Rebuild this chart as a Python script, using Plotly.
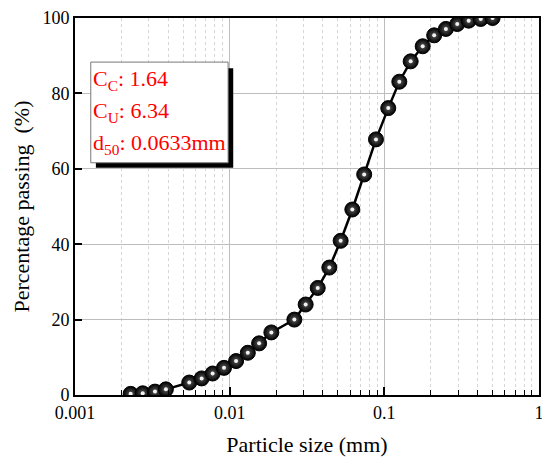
"""
Curva granulométrica: porcentaje que pasa contra tamaño de partícula.
"""

import plotly.graph_objects as go

# Tamaño de partícula (mm) y porcentaje que pasa.
TAMANOS = [
    0.00229, 0.00274, 0.00329, 0.00387, 0.00548, 0.00659, 0.00776, 0.00919,
    0.0110, 0.0131, 0.0155, 0.0186, 0.0262, 0.0310, 0.0371, 0.0441, 0.0522,
    0.0621, 0.0741, 0.0883, 0.106, 0.125, 0.148, 0.177, 0.210, 0.250, 0.296,
    0.351, 0.420, 0.501,
]
PASA = [
    0.3, 0.45, 0.9, 1.5, 3.3, 4.4, 5.7, 7.2, 9.0, 11.2, 13.7, 16.6, 20.0,
    24.0, 28.4, 33.8, 40.9, 49.2, 58.5, 67.8, 76.1, 83.1, 88.5, 92.5, 95.4,
    97.1, 98.4, 99.3, 99.75, 100.0,
]

TICKS_X = [0.001, 0.01, 0.1, 1]
TEXTO_X = ["0.001", "0.01", "0.1", "1"]

# Parámetros que van en el recuadro rojo.
ETIQUETAS = [
    "C<sub>C</sub>: 1.64",
    "C<sub>U</sub>: 6.34",
    "d<sub>50</sub>: 0.0633mm",
]

FUENTE = "Liberation Serif"


def main():
    fig = go.Figure()

    # Curva con esferas negras.
    fig.add_trace(
        go.Scatter(
            x=TAMANOS,
            y=PASA,
            mode="lines+markers",
            line_color="black",
            line_width=2.5,
            marker_size=15,
            marker_color="black",
            marker_line_color="black",
            marker_line_width=1,
            marker_gradient_type="radial",
            marker_gradient_color="#5a5a5a",
            hoverinfo="skip",
        )
    )

    # El brillo de cada esfera.
    fig.add_trace(
        go.Scatter(
            x=TAMANOS,
            y=PASA,
            mode="markers",
            marker_size=4,
            marker_color="#f2f2f2",
            marker_line_width=0,
        )
    )

    # Ticks menores en 2..9 de cada década.
    menores = [m * 10**e for e in range(-3, 0) for m in range(2, 10)]

    fig.update_xaxes(
        type="log",
        range=[-3, 0],
        tickvals=TICKS_X,
        ticktext=TEXTO_X,
        ticks="inside",
        ticklen=8,
        tickwidth=1.5,
        tickcolor="black",
        showline=True,
        linecolor="black",
        linewidth=2,
        mirror=True,
        showgrid=True,
        gridcolor="#bdbdbd",
        gridwidth=1,
        zeroline=False,
        automargin=False,
        tickfont_size=18,
        title_text="Particle size (mm)",
        title_font_size=22,
        title_standoff=15,
        minor=dict(
            tickvals=menores,
            ticks="inside",
            ticklen=5,
            tickwidth=1.2,
            tickcolor="black",
            showgrid=True,
            gridcolor="#d6d6d6",
            griddash="dot",
            gridwidth=1,
        ),
    )

    fig.update_yaxes(
        range=[0, 100],
        tickvals=[0, 20, 40, 60, 80, 100],
        ticks="inside",
        ticklen=7,
        tickwidth=1.5,
        tickcolor="black",
        showline=True,
        linecolor="black",
        linewidth=2,
        mirror=True,
        showgrid=True,
        gridcolor="#bdbdbd",
        gridwidth=1,
        zeroline=False,
        automargin=False,
        tickfont_size=18,
        title_text="Percentage passing\u00a0 (%)",
        title_font_size=22,
        title_standoff=7,
    )

    # La página deja 8 px de margen, así que la figura es un poco menor.
    fig.update_layout(
        width=542,
        height=457,
        showlegend=False,
        font_family=FUENTE,
        font_color="black",
        plot_bgcolor="white",
        paper_bgcolor="white",
        margin=dict(l=67, r=11, t=10, b=70),
    )

    # Sombra negra y recuadro blanco de la anotación.
    fig.add_shape(
        type="rect", xref="paper", yref="paper",
        x0=0.045, x1=0.341, y0=0.603, y1=0.867,
        fillcolor="black", line_width=0,
    )
    fig.add_shape(
        type="rect", xref="paper", yref="paper",
        x0=0.034, x1=0.330, y0=0.616, y1=0.883,
        fillcolor="white", line_color="#777777", line_width=1,
    )

    for texto, y in zip(ETIQUETAS, [0.835, 0.750, 0.665]):
        fig.add_annotation(
            x=0.034,
            xanchor="left",
            xref="paper",
            y=y,
            yanchor="middle",
            yref="paper",
            text=texto,
            showarrow=False,
            font_color="red",
            font_size=22,
        )

    fig.write_html("out.html")


if __name__ == "__main__":
    main()
